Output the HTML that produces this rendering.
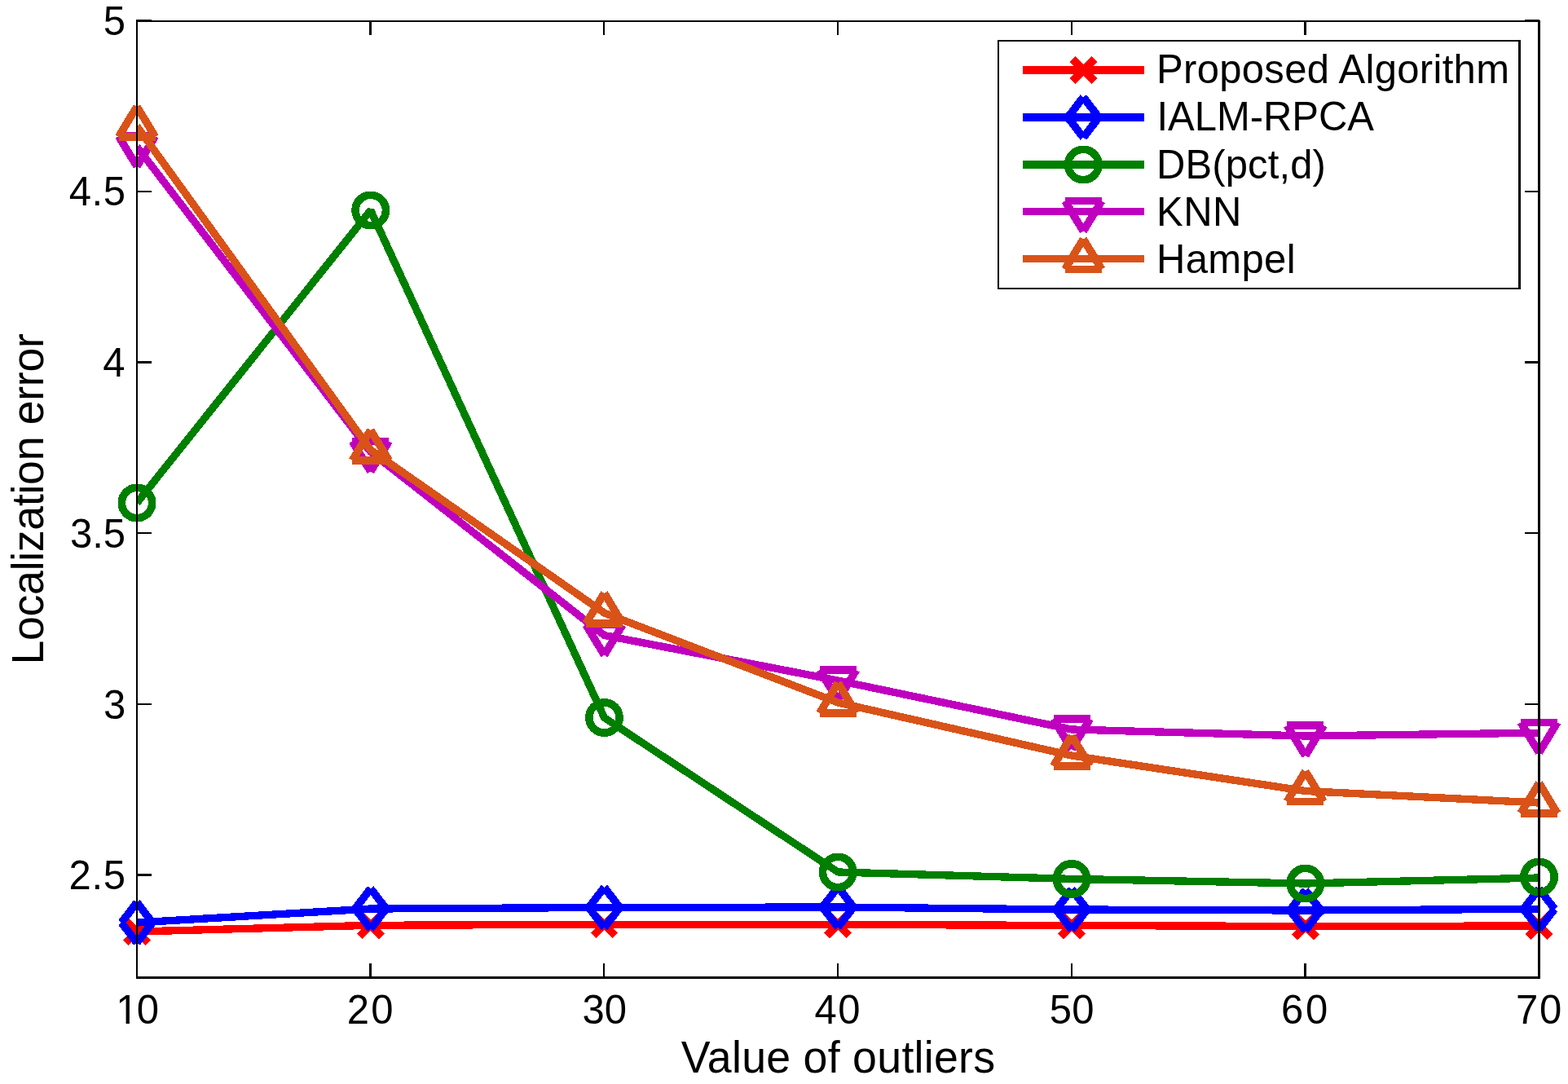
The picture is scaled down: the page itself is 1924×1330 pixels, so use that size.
<!DOCTYPE html>
<html lang="en"><head><meta charset="utf-8"><title>Localization error</title>
<style>html,body{margin:0;padding:0;background:#fff;}body{width:1924px;height:1330px;overflow:hidden;}svg{display:block;}text{font-family:"Liberation Sans",sans-serif;fill:#000;}.t{font-size:49px;}.l{font-size:53.7px;}.g{font-size:49px;}</style></head><body>
<svg width="1924" height="1330" viewBox="0 0 1924 1330" shape-rendering="crispEdges">
<rect x="0" y="0" width="1924" height="1330" fill="#fff"/>
<defs><clipPath id="ax"><rect x="168" y="26" width="1721" height="1174"/></clipPath></defs>
<g fill="#000">
<rect x="453" y="1182" width="3" height="16"/>
<rect x="453" y="27" width="3" height="16"/>
<rect x="740" y="1182" width="2" height="16"/>
<rect x="740" y="27" width="2" height="16"/>
<rect x="1027" y="1182" width="2" height="16"/>
<rect x="1027" y="27" width="2" height="16"/>
<rect x="1314" y="1182" width="2" height="16"/>
<rect x="1314" y="27" width="2" height="16"/>
<rect x="1600" y="1182" width="3" height="16"/>
<rect x="1600" y="27" width="3" height="16"/>
<rect x="169" y="24" width="17" height="3"/>
<rect x="1871" y="24" width="16" height="3"/>
<rect x="169" y="234" width="17" height="2"/>
<rect x="1871" y="234" width="16" height="2"/>
<rect x="169" y="443" width="17" height="3"/>
<rect x="1871" y="443" width="16" height="3"/>
<rect x="169" y="653" width="17" height="2"/>
<rect x="1871" y="653" width="16" height="2"/>
<rect x="169" y="863" width="17" height="2"/>
<rect x="1871" y="863" width="16" height="2"/>
<rect x="169" y="1072" width="17" height="3"/>
<rect x="167" y="24" width="19" height="1"/><rect x="1871" y="24" width="18" height="1"/>
</g>
<g fill="none" stroke="#ff0000" stroke-width="9.6">
<polyline points="168,1143 454.75,1135.3 741.5,1134.3 1028.25,1134.3 1315,1135.5 1601.75,1136.5 1888.5,1136" stroke-width="9.3" stroke-linejoin="bevel" stroke-linecap="butt" clip-path="url(#ax)"/>
<path d="M154.4 1129.4L181.6 1156.6M154.4 1156.6L181.6 1129.4"/>
<path d="M441.15 1121.7L468.35 1148.9M441.15 1148.9L468.35 1121.7"/>
<path d="M727.9 1120.7L755.1 1147.9M727.9 1147.9L755.1 1120.7"/>
<path d="M1014.65 1120.7L1041.85 1147.9M1014.65 1147.9L1041.85 1120.7"/>
<path d="M1301.4 1121.9L1328.6 1149.1M1301.4 1149.1L1328.6 1121.9"/>
<path d="M1588.15 1122.9L1615.35 1150.1M1588.15 1150.1L1615.35 1122.9"/>
<path d="M1874.9 1122.4L1902.1 1149.6M1874.9 1149.6L1902.1 1122.4"/>
</g>
<g fill="none" stroke="#0000ff" stroke-width="9.6">
<polyline points="168,1132 454.75,1115 741.5,1113.5 1028.25,1113 1315,1116 1601.75,1117 1888.5,1115.3" stroke-width="9.3" stroke-linejoin="bevel" stroke-linecap="butt" clip-path="url(#ax)"/>
<path d="M168 1107.2L187 1132M187 1132L168 1156.8M168 1156.8L149 1132M149 1132L168 1107.2"/>
<path d="M454.75 1090.2L473.75 1115M473.75 1115L454.75 1139.8M454.75 1139.8L435.75 1115M435.75 1115L454.75 1090.2"/>
<path d="M741.5 1088.7L760.5 1113.5M760.5 1113.5L741.5 1138.3M741.5 1138.3L722.5 1113.5M722.5 1113.5L741.5 1088.7"/>
<path d="M1028.25 1088.2L1047.25 1113M1047.25 1113L1028.25 1137.8M1028.25 1137.8L1009.25 1113M1009.25 1113L1028.25 1088.2"/>
<path d="M1315 1091.2L1334 1116M1334 1116L1315 1140.8M1315 1140.8L1296 1116M1296 1116L1315 1091.2"/>
<path d="M1601.75 1092.2L1620.75 1117M1620.75 1117L1601.75 1141.8M1601.75 1141.8L1582.75 1117M1582.75 1117L1601.75 1092.2"/>
<path d="M1888.5 1090.5L1907.5 1115.3M1907.5 1115.3L1888.5 1140.1M1888.5 1140.1L1869.5 1115.3M1869.5 1115.3L1888.5 1090.5"/>
</g>
<g fill="none" stroke="#007f00" stroke-width="9.6">
<polyline points="168,617 454.75,258 741.5,880.5 1028.25,1070 1315,1078.4 1601.75,1084 1888.5,1077" stroke-width="9.3" stroke-linejoin="bevel" stroke-linecap="butt" clip-path="url(#ax)"/>
<circle cx="168" cy="617" r="18.7"/>
<circle cx="454.75" cy="258" r="18.7"/>
<circle cx="741.5" cy="880.5" r="18.7"/>
<circle cx="1028.25" cy="1070" r="18.7"/>
<circle cx="1315" cy="1078.4" r="18.7"/>
<circle cx="1601.75" cy="1084" r="18.7"/>
<circle cx="1888.5" cy="1076" r="18.7"/>
</g>
<g fill="none" stroke="#bf00bf" stroke-width="9.6">
<polyline points="168,180 454.75,554.3 741.5,779.5 1028.25,835 1315,895 1601.75,903 1888.5,899.2" stroke-width="9.3" stroke-linejoin="bevel" stroke-linecap="butt" clip-path="url(#ax)"/>
<path d="M145.5 167.1L190.5 167.1M190.5 167.1L168 204.2M168 204.2L145.5 167.1"/>
<path d="M432.25 541.4L477.25 541.4M477.25 541.4L454.75 578.5M454.75 578.5L432.25 541.4"/>
<path d="M719 766.6L764 766.6M764 766.6L741.5 803.7M741.5 803.7L719 766.6"/>
<path d="M1005.75 822.1L1050.75 822.1M1050.75 822.1L1028.25 859.2M1028.25 859.2L1005.75 822.1"/>
<path d="M1292.5 882.1L1337.5 882.1M1337.5 882.1L1315 919.2M1315 919.2L1292.5 882.1"/>
<path d="M1579.25 890.1L1624.25 890.1M1624.25 890.1L1601.75 927.2M1601.75 927.2L1579.25 890.1"/>
<path d="M1866 886.3L1911 886.3M1911 886.3L1888.5 923.4M1888.5 923.4L1866 886.3"/>
</g>
<g fill="none" stroke="#d95319" stroke-width="9.6">
<polyline points="168,155 454.75,552 741.5,752 1028.25,862 1315,927 1601.75,970.5 1888.5,985" stroke-width="9.3" stroke-linejoin="bevel" stroke-linecap="butt" clip-path="url(#ax)"/>
<path d="M145.5 167.9L190.5 167.9M190.5 167.9L168 130.8M168 130.8L145.5 167.9"/>
<path d="M432.25 564.9L477.25 564.9M477.25 564.9L454.75 527.8M454.75 527.8L432.25 564.9"/>
<path d="M719 764.9L764 764.9M764 764.9L741.5 727.8M741.5 727.8L719 764.9"/>
<path d="M1005.75 874.9L1050.75 874.9M1050.75 874.9L1028.25 837.8M1028.25 837.8L1005.75 874.9"/>
<path d="M1292.5 939.9L1337.5 939.9M1337.5 939.9L1315 902.8M1315 902.8L1292.5 939.9"/>
<path d="M1579.25 983.4L1624.25 983.4M1624.25 983.4L1601.75 946.3M1601.75 946.3L1579.25 983.4"/>
<path d="M1866 997.9L1911 997.9M1911 997.9L1888.5 960.8M1888.5 960.8L1866 997.9"/>
</g>
<g fill="#000">
<rect x="167" y="25" width="2" height="1176"/>
<rect x="167" y="25" width="1723" height="2"/>
<rect x="1887" y="25" width="3" height="1176"/>
<rect x="167" y="1198" width="1723" height="3"/>
</g>
<defs><clipPath id="one"><path clip-rule="evenodd" d="M-20 -60H80V30H-20Z M2.73 -3.86H12.32V2H2.73Z M16.65 -3.86H25.86V2H16.65Z"/></clipPath></defs>
<g>
<text class="t" transform="translate(142.25 1256) scale(1 1.02)" letter-spacing="-1.75" clip-path="url(#one)">10</text>
<text class="t" transform="translate(425.7 1256) scale(1 1.02)" letter-spacing="2.3">20</text>
<text class="t" transform="translate(714.5 1256) scale(1 1.02)" letter-spacing="0.1">30</text>
<text class="t" transform="translate(999.45 1256) scale(1 1.02)" letter-spacing="1.55">40</text>
<text class="t" transform="translate(1287.7 1256) scale(1 1.02)" letter-spacing="0.3">50</text>
<text class="t" transform="translate(1572.1 1256) scale(1 1.02)" letter-spacing="2.7">60</text>
<text class="t" transform="translate(1860.1 1256) scale(1 1.02)" letter-spacing="1.7">70</text>
<text class="t" transform="translate(84.5 1091) scale(1 1.02)" letter-spacing="0.75">2.5</text>
<text class="t" transform="translate(127 882) scale(1 1.02)">3</text>
<text class="t" transform="translate(86 672.2) scale(1 1.02)">3.5</text>
<text class="t" transform="translate(126.25 462) scale(1 1.02)">4</text>
<text class="t" transform="translate(84.75 252) scale(1 1.02)" letter-spacing="0.62">4.5</text>
<text class="t" transform="translate(126.75 43.2) scale(1 1.02)">5</text>
</g>
<text class="l" transform="translate(835.75 1316) scale(1 1.03)" letter-spacing="0.27">Value of outliers</text>
<text class="l" transform="translate(53 815.5) rotate(-90) scale(1 1.04)" letter-spacing="-0.32">Localization error</text>
<g>
<rect x="1225" y="50" width="640" height="304" fill="#fff"/>
<g fill="#000"><rect x="1224" y="49" width="2" height="306"/><rect x="1224" y="49" width="642" height="2"/><rect x="1863" y="49" width="3" height="306"/><rect x="1224" y="353" width="642" height="2"/></g>
<g fill="none" stroke="#ff0000" stroke-width="9.6"><path d="M1255 86L1404 86"/>
<path d="M1315.7 72.4L1342.9 99.6M1315.7 99.6L1342.9 72.4"/></g>
<text class="g" transform="translate(1419 102) scale(1 1.01)" letter-spacing="0.32">Proposed Algorithm</text>
<g fill="none" stroke="#0000ff" stroke-width="9.6"><path d="M1255 144L1404 144"/>
<path d="M1329.3 119.2L1348.3 144M1348.3 144L1329.3 168.8M1329.3 168.8L1310.3 144M1310.3 144L1329.3 119.2"/></g>
<text class="g" transform="translate(1419.5 160) scale(1 1.01)" letter-spacing="-0.03">IALM-RPCA</text>
<g fill="none" stroke="#007f00" stroke-width="9.6"><path d="M1255 202L1404 202"/>
<circle cx="1329.3" cy="202" r="18.7"/></g>
<text class="g" transform="translate(1419 219) scale(1 1.01)" letter-spacing="0.12">DB(pct,d)</text>
<g fill="none" stroke="#bf00bf" stroke-width="9.6"><path d="M1255 259.5L1404 259.5"/>
<path d="M1306.8 246.6L1351.8 246.6M1351.8 246.6L1329.3 283.7M1329.3 283.7L1306.8 246.6"/></g>
<text class="g" transform="translate(1419 277) scale(1 1.01)" letter-spacing="0.45">KNN</text>
<g fill="none" stroke="#d95319" stroke-width="9.6"><path d="M1255 317.5L1404 317.5"/>
<path d="M1306.8 330.4L1351.8 330.4M1351.8 330.4L1329.3 293.3M1329.3 293.3L1306.8 330.4"/></g>
<text class="g" transform="translate(1419 335) scale(1 1.01)" letter-spacing="0.36">Hampel</text>
</g>
</svg></body></html>
